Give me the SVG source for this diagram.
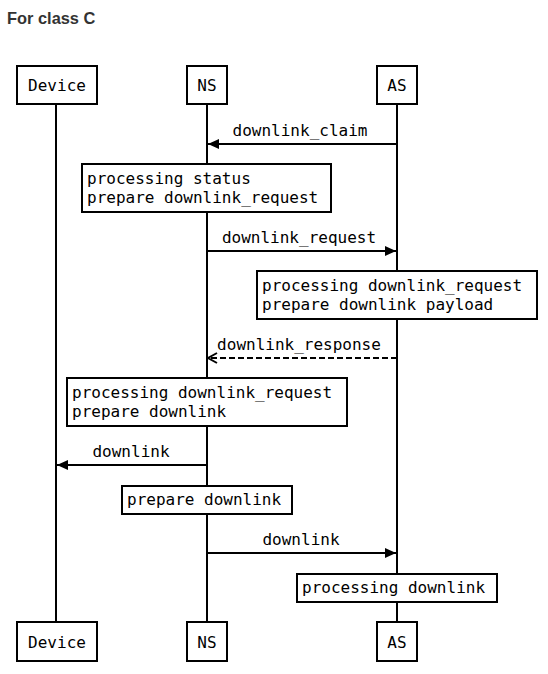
<svg xmlns="http://www.w3.org/2000/svg" width="548" height="674" viewBox="0 0 548 674">
<defs>
<style>
.t{font-family:"DejaVu Sans Mono",monospace;font-size:16px;fill:#000}
.box{fill:#fff;stroke:#000;stroke-width:2}
.life{stroke:#000;stroke-width:2}
.msg{stroke:#000;stroke-width:2;fill:none}
.dash{stroke-dasharray:6,3}
</style>
<marker id="fa" markerWidth="12" markerHeight="10" refX="11" refY="5" orient="auto" markerUnits="userSpaceOnUse">
<path d="M0,0 L11,5 L0,10 Z" fill="#000"/>
</marker>
<marker id="oa" markerWidth="12" markerHeight="12" refX="10" refY="6" orient="auto" markerUnits="userSpaceOnUse">
<path d="M1,1 L10,6 L1,11" fill="none" stroke="#000" stroke-width="2"/>
</marker>
</defs>
<rect width="548" height="674" fill="#fff"/>
<text x="7" y="24" font-family="Liberation Sans, Arial, sans-serif" font-size="16.4" font-weight="bold" fill="#333">For class C</text>
<g id="lifelines">
<line class="life" x1="56" y1="104" x2="56" y2="622"/>
<line class="life" x1="207" y1="104" x2="207" y2="622"/>
<line class="life" x1="397" y1="104" x2="397" y2="622"/>
</g>
<g id="connectors">
<line class="msg" x1="397" y1="144" x2="208" y2="144" marker-end="url(#fa)"/>
<text class="t" x="300" y="136" text-anchor="middle">downlink_claim</text>
<line class="msg" x1="207" y1="251" x2="396" y2="251" marker-end="url(#fa)"/>
<text class="t" x="299" y="243" text-anchor="middle">downlink_request</text>
<line class="msg dash" x1="397" y1="358" x2="208" y2="358" marker-end="url(#oa)"/>
<text class="t" x="299" y="350" text-anchor="middle">downlink_response</text>
<line class="msg" x1="207" y1="465" x2="57" y2="465" marker-end="url(#fa)"/>
<text class="t" x="131" y="457" text-anchor="middle">downlink</text>
<line class="msg" x1="207" y1="553" x2="396" y2="553" marker-end="url(#fa)"/>
<text class="t" x="301" y="545" text-anchor="middle">downlink</text>
</g>
<g id="device-top"><rect class="box" x="17" y="66" width="80" height="38"/><text class="t" x="57" y="91" text-anchor="middle">Device</text></g>
<g id="ns-top"><rect class="box" x="187" y="66" width="40" height="38"/><text class="t" x="207" y="91" text-anchor="middle">NS</text></g>
<g id="as-top"><rect class="box" x="377" y="66" width="40" height="38"/><text class="t" x="397" y="91" text-anchor="middle">AS</text></g>
<g id="note1"><rect class="box" x="82" y="164" width="249" height="48"/><text class="t" x="87" y="184">processing status</text><text class="t" x="87" y="203">prepare downlink_request</text></g>
<g id="note2"><rect class="box" x="257" y="271" width="280" height="48"/><text class="t" x="262" y="291">processing downlink_request</text><text class="t" x="262" y="310">prepare downlink payload</text></g>
<g id="note3"><rect class="box" x="67" y="378" width="280" height="48"/><text class="t" x="72" y="398">processing downlink_request</text><text class="t" x="72" y="417">prepare downlink</text></g>
<g id="note4"><rect class="box" x="122" y="486" width="170" height="28"/><text class="t" x="127" y="505">prepare downlink</text></g>
<g id="note5"><rect class="box" x="297" y="574" width="200" height="28"/><text class="t" x="302" y="593">processing downlink</text></g>
<g id="device-bottom"><rect class="box" x="17" y="622" width="80" height="39"/><text class="t" x="57" y="648" text-anchor="middle">Device</text></g>
<g id="ns-bottom"><rect class="box" x="187" y="622" width="40" height="39"/><text class="t" x="207" y="648" text-anchor="middle">NS</text></g>
<g id="as-bottom"><rect class="box" x="377" y="622" width="40" height="39"/><text class="t" x="397" y="648" text-anchor="middle">AS</text></g>
</svg>
